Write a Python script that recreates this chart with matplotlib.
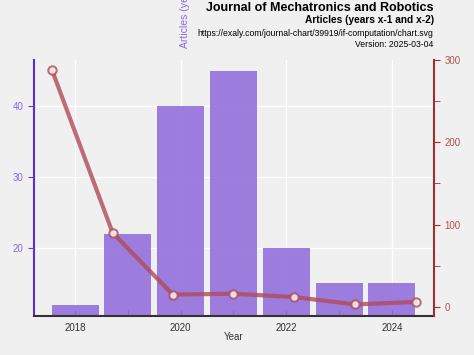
import matplotlib.pyplot as plt
import numpy as np

years = [2018, 2019, 2020, 2021, 2022, 2023, 2024]
articles = [12, 22, 40, 45, 20, 15, 15]
# line points as drawn (x positions)
line_x = [2017.56, 2018.71, 2019.85, 2021.0, 2022.15, 2023.3, 2024.45]
line_y = [288, 90, 15, 16, 12, 3, 6]

plt.rcParams['font.family'] = ['Liberation Sans', 'DejaVu Sans']

bg = '#f0f0f0'
fig = plt.figure(figsize=(4.74, 3.55), dpi=100, facecolor=bg)
ax = fig.add_axes([0.0717, 0.11, 0.844, 0.721], facecolor=bg)

ax.grid(True, color='white', linewidth=1)
ax.set_axisbelow(True)
ax.bar(years, articles, width=0.89, color='#9370db', alpha=0.9, zorder=2)
ax.set_xlim(2017.22, 2024.8)
ax.set_ylim(10.4, 46.5)
ax.set_xticks([2018, 2020, 2022, 2024])
ax.set_xticks(years, minor=True)
ax.tick_params(axis='x', which='both', direction='in', length=4, colors='#333366',
               labelsize=7, labelcolor='#333333', pad=5)
ax.set_yticks([20, 30, 40])
ax.tick_params(axis='y', colors='#6a3fd6', labelsize=7, labelcolor='#8a6ae0', length=4)
ax.spines['left'].set_color('#5b2fd0')
ax.spines['left'].set_linewidth(1.5)
ax.spines['bottom'].set_color('#333333')
ax.spines['bottom'].set_linewidth(1.5)
ax.spines['top'].set_visible(False)
ax.spines['right'].set_visible(False)
ax.set_xlabel('Year', fontsize=7, color='#333333', labelpad=-1)

ax2 = ax.twinx()
ax2.plot(line_x, line_y, color='#b04a5a', alpha=0.8, linewidth=3, marker='o',
         markersize=6, markerfacecolor='white', markeredgecolor='#b04a5a',
         markeredgewidth=1.5, zorder=3)
ax2.set_ylim(-11, 300)
ax2.set_yticks([0, 100, 200, 300])
ax2.set_yticks([50, 150, 250], minor=True)
ax2.tick_params(axis='y', which='both', colors='#a03030', labelsize=7,
                labelcolor='#b05050', length=4)
for s in ['top', 'left', 'bottom']:
    ax2.spines[s].set_visible(False)
ax2.spines['right'].set_color('#a03030')
ax2.spines['right'].set_linewidth(1.5)

fig.text(0.39, 0.865, 'Articles (years x-1 and x-2)', rotation=90, ha='center', va='bottom',
         fontsize=7.5, color='#8a6ae0')

fig.text(0.915, 0.977, 'Journal of Mechatronics and Robotics', ha='right', va='center',
         fontsize=9, fontweight='bold')
fig.text(0.915, 0.944, 'Articles (years x-1 and x-2)', ha='right', va='center',
         fontsize=7.3, fontweight='bold')
fig.text(0.915, 0.907, 'https://exaly.com/journal-chart/39919/if-computation/chart.svg',
         ha='right', va='center', fontsize=6.2)
fig.text(0.915, 0.876, 'Version: 2025-03-04', ha='right', va='center', fontsize=6.2)

fig.savefig('out.png', dpi=100, facecolor=bg)
